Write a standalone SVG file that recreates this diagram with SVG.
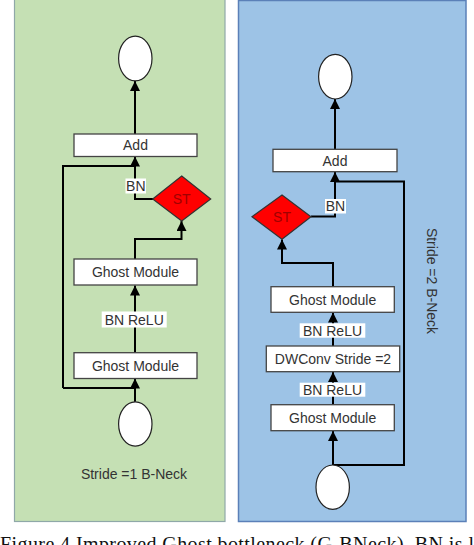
<svg xmlns="http://www.w3.org/2000/svg" width="474" height="545" viewBox="0 0 474 545">
<defs>
<marker id="ah" viewBox="0 0 10 10" refX="10" refY="5" markerWidth="11" markerHeight="10" markerUnits="userSpaceOnUse" orient="auto">
<path d="M0,0 L10,5 L0,10 Z" fill="#000"/>
</marker>
</defs>
<style>
.box{fill:#fff;stroke:#444;stroke-width:1.3}
.ell{fill:#fff;stroke:#222;stroke-width:1.2}
.lbl{fill:#fff;stroke:none}
.t{font-family:"Liberation Sans",Arial,sans-serif;font-size:14px;fill:#333;text-anchor:middle}
.st{font-family:"Liberation Sans",Arial,sans-serif;font-size:14px;fill:#a00000;text-anchor:middle}
.dia{fill:#ff0000;stroke:#333;stroke-width:1.2}
.c{fill:none;stroke:#000;stroke-width:2}
.ca{fill:none;stroke:#000;stroke-width:2;marker-end:url(#ah)}
</style>
<rect width="474" height="545" fill="#fff"/>
<g id="panel-left">
<rect x="14.5" y="-2" width="210.5" height="523.5" fill="#c5e0b4" stroke="#8fa8a8" stroke-width="1.2"/>
<text class="t" x="134" y="479">Stride =1 B-Neck</text>
</g>
<g id="panel-right">
<rect x="238.5" y="0.5" width="227.5" height="521" fill="#9dc3e6" stroke="#5b80b8" stroke-width="1.5"/>
<text class="t" transform="translate(427,281) rotate(90)">Stride =2 B-Neck</text>
</g>
<g id="connectors">
<line class="ca" x1="135" y1="134" x2="135" y2="81"/>
<polyline class="ca" points="63,388 63,166 135,166 135,156.5"/>
<polyline class="c" points="135,166 135,199 153,199"/>
<polyline class="ca" points="135,259 135,239 181.5,239 181.5,221"/>
<line class="ca" x1="135" y1="353" x2="135" y2="285.5"/>
<line class="ca" x1="135" y1="402" x2="135" y2="378.5"/>
<line class="c" x1="63" y1="388" x2="135" y2="388"/>
<line class="ca" x1="335" y1="149.5" x2="335" y2="99"/>
<polyline class="ca" points="333,465 404,465 404,181.5 335,181.5 335,172"/>
<polyline class="c" points="335,181.5 335,216.5 311,216.5"/>
<polyline class="ca" points="333,287 333,263 282,263 282,239.5"/>
<line class="ca" x1="333" y1="346" x2="333" y2="312.5"/>
<line class="ca" x1="333" y1="405" x2="333" y2="372"/>
<line class="ca" x1="333" y1="465" x2="333" y2="431"/>
</g>
<g id="left-out"><ellipse class="ell" cx="135.3" cy="58.5" rx="16.7" ry="22.3"/></g>
<g id="left-add"><rect class="box" x="74" y="134" width="123" height="22.5"/><text class="t" x="135.5" y="150">Add</text></g>
<g id="left-bn"><rect class="lbl" x="125.5" y="178.5" width="20.5" height="15"/><text class="t" x="135.8" y="191">BN</text></g>
<g id="left-st"><polygon class="dia" points="181.7,176 210.7,199 181.7,221 152.7,199"/><text class="st" x="181.7" y="204">ST</text></g>
<g id="left-ghost2"><rect class="box" x="74" y="259" width="123" height="26"/><text class="t" x="135.5" y="277">Ghost Module</text></g>
<g id="left-bnrelu"><rect class="lbl" x="101.7" y="311.5" width="65" height="16"/><text class="t" x="134.2" y="324.5">BN ReLU</text></g>
<g id="left-ghost1"><rect class="box" x="74" y="352.7" width="123" height="25.8"/><text class="t" x="135.5" y="370.5">Ghost Module</text></g>
<g id="left-in"><ellipse class="ell" cx="135.3" cy="424" rx="16.7" ry="22.2"/></g>
<g id="right-out"><ellipse class="ell" cx="335.3" cy="76.7" rx="16.7" ry="22.3"/></g>
<g id="right-add"><rect class="box" x="273" y="149.3" width="124" height="22.4"/><text class="t" x="335" y="165.5">Add</text></g>
<g id="right-bn"><rect class="lbl" x="325" y="199" width="21" height="14.5"/><text class="t" x="335.5" y="211">BN</text></g>
<g id="right-st"><polygon class="dia" points="282,195 311,216.7 282,239.3 252,216.7"/><text class="st" x="282" y="221.5">ST</text></g>
<g id="right-ghost2"><rect class="box" x="271" y="286.7" width="123.3" height="25.6"/><text class="t" x="332.7" y="304.5">Ghost Module</text></g>
<g id="right-bnrelu2"><rect class="lbl" x="299.7" y="323.3" width="65.6" height="14.4"/><text class="t" x="332.5" y="335.5">BN ReLU</text></g>
<g id="right-dwconv"><rect class="box" x="266.3" y="346" width="133.4" height="25.7"/><text class="t" x="333" y="364">DWConv Stride =2</text></g>
<g id="right-bnrelu1"><rect class="lbl" x="299.7" y="382.7" width="65.6" height="14"/><text class="t" x="332.5" y="394.5">BN ReLU</text></g>
<g id="right-ghost1"><rect class="box" x="271" y="404.7" width="123.3" height="26"/><text class="t" x="332.7" y="422.5">Ghost Module</text></g>
<g id="right-in"><ellipse class="ell" cx="332.7" cy="487.2" rx="16.7" ry="22.2"/></g>
<text id="caption" x="0" y="551" textLength="474" lengthAdjust="spacing" font-family="'Liberation Serif','Times New Roman',serif" font-size="20" fill="#111">Figure 4 Improved Ghost bottleneck (G-BNeck). BN is l</text>
</svg>
